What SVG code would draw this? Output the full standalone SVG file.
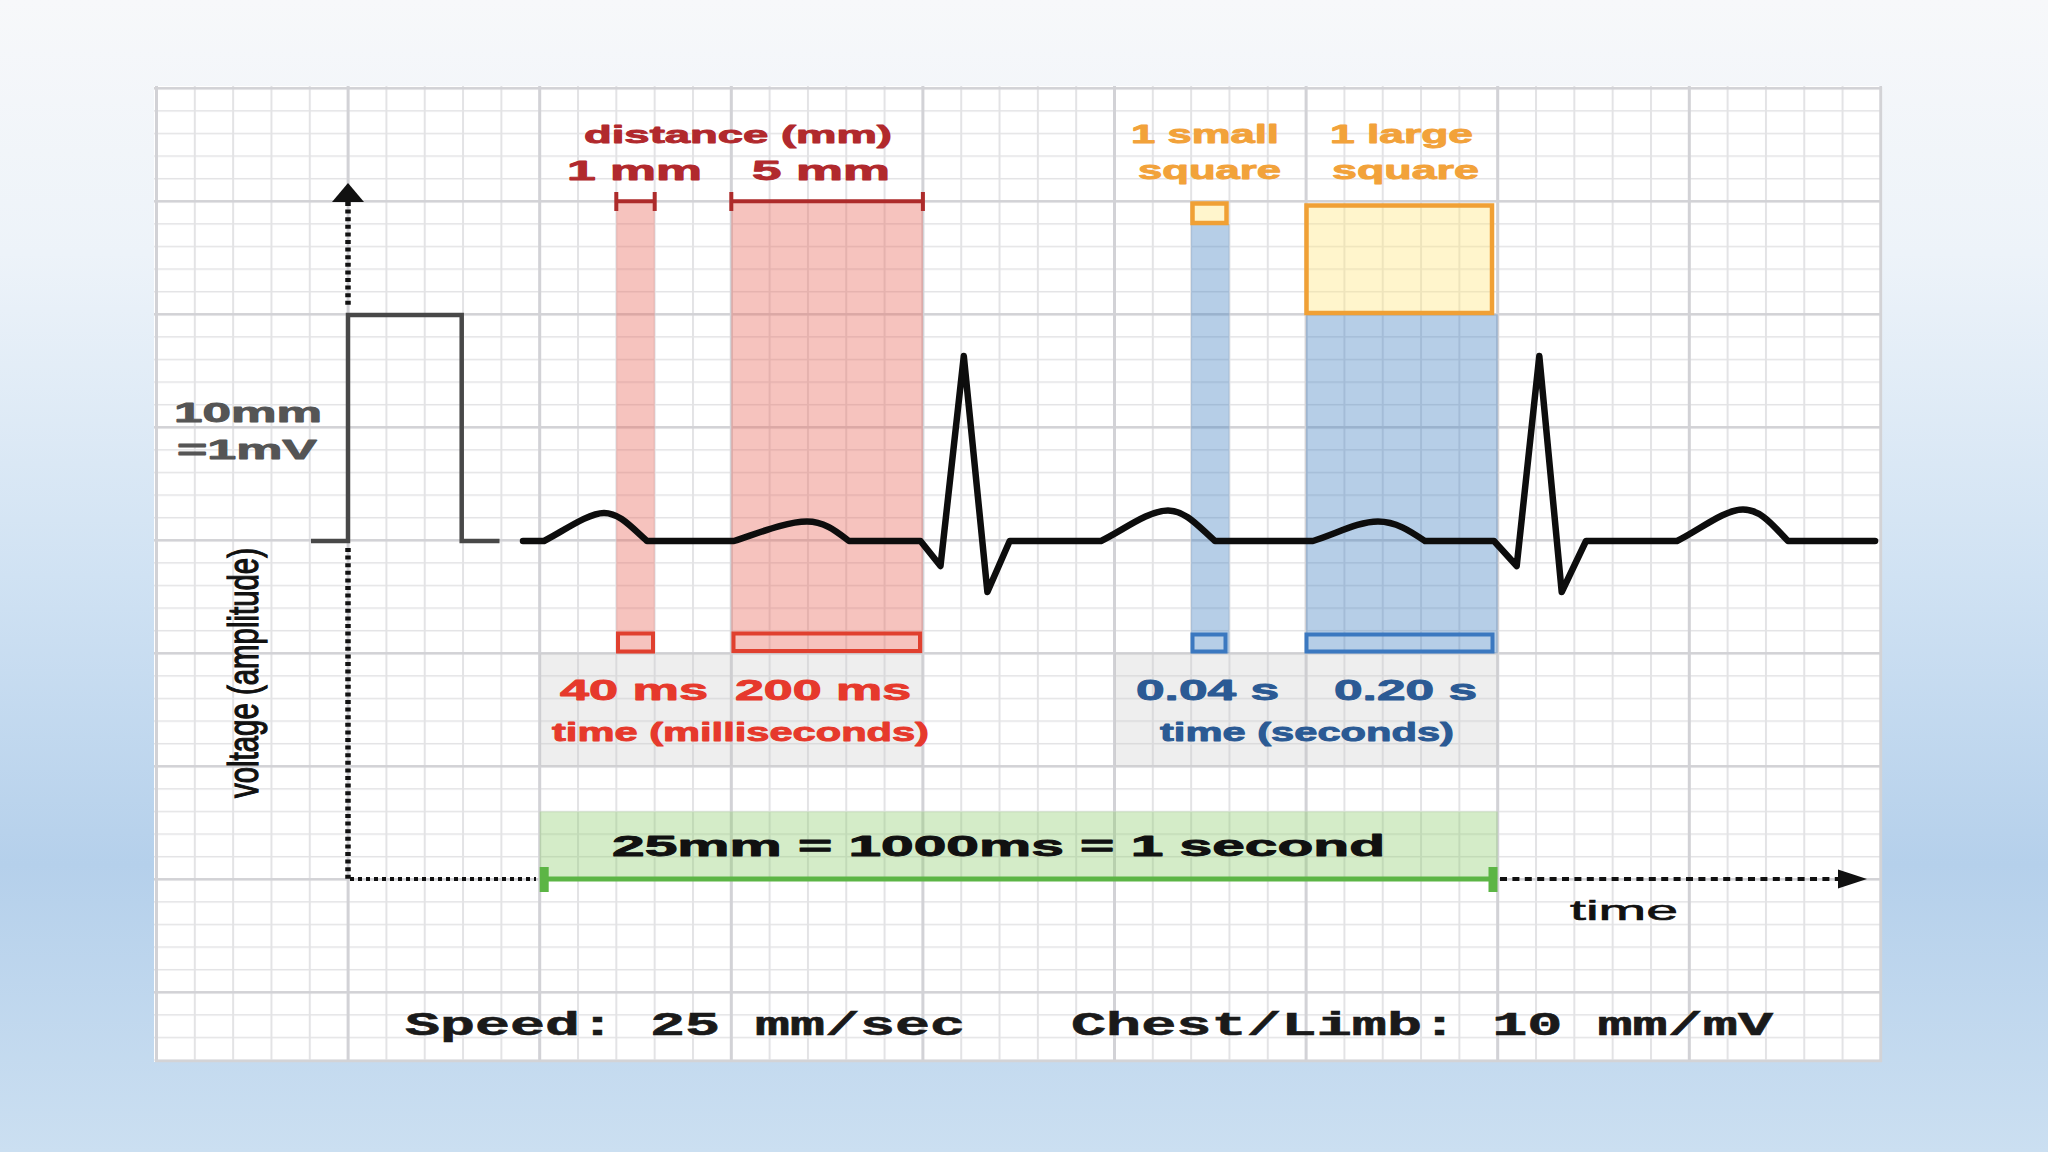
<svg xmlns="http://www.w3.org/2000/svg" width="2048" height="1152" viewBox="0 0 2048 1152">
<defs>
<linearGradient id="bg" x1="0" y1="0" x2="0" y2="1">
<stop offset="0" stop-color="#f7f8fa"/>
<stop offset="0.22" stop-color="#edf3f9"/>
<stop offset="0.5" stop-color="#d0e2f3"/>
<stop offset="0.75" stop-color="#b5d0eb"/>
<stop offset="1" stop-color="#cbdff1"/>
</linearGradient>
<pattern id="minor" x="155.5" y="87.55" width="38.32" height="22.6" patternUnits="userSpaceOnUse">
<path d="M0 0.75H38.32" stroke="#e3e3e5" stroke-width="1.5" fill="none"/>
<path d="M1 0V22.6" stroke="#e3e3e5" stroke-width="2" fill="none"/>
</pattern>
<pattern id="major" x="155" y="87.05" width="191.6" height="113" patternUnits="userSpaceOnUse">
<path d="M0 1.25H191.6" stroke="#d2d2d6" stroke-width="2.5" fill="none"/>
<path d="M1.5 0V113" stroke="#d2d2d6" stroke-width="3" fill="none"/>
</pattern>
<style>
.sans{font-family:"Liberation Sans",Arial,Helvetica,sans-serif;font-weight:bold;stroke-width:0.9;stroke-linejoin:round}
.reg{font-family:"Liberation Sans",Arial,Helvetica,sans-serif;font-weight:normal}
.mono{font-family:"Liberation Mono","Courier New",monospace;font-weight:bold;font-size:34px;fill:#1a1a1a;stroke:#1a1a1a;stroke-width:0.6}
.dred{fill:#b1292d;stroke:#b1292d}
.bred{fill:#e6392c;stroke:#e6392c}
.orange{fill:#f2a23a;stroke:#f2a23a}
.blue{fill:#2b5a94;stroke:#2b5a94}
.redband{fill:#e8685c;fill-opacity:0.4}
.blueband{fill:#3f7fbf;fill-opacity:0.38}
.yellow{fill:#ffe680;fill-opacity:0.4;stroke:#f0a035;stroke-width:4.5}
.redbox{fill:none;stroke:#e0402f;stroke-width:4}
.bluebox{fill:none;stroke:#3b78c0;stroke-width:4}
.greybox{fill:#c8c8c8;fill-opacity:0.3}
.bracket{stroke:#ad2b2b;stroke-width:4;fill:none}
.dots{stroke:#111;fill:none}
.arrow{fill:#111}
</style>
</defs>

<rect x="0" y="0" width="2048" height="1152" fill="url(#bg)"/>

<g id="paper">
<rect x="154" y="86" width="1728" height="976" fill="#ffffff"/>
<rect x="154" y="86" width="1728" height="976" fill="url(#minor)"/>
<rect x="154" y="86" width="1728" height="976" fill="url(#major)"/>
<path d="M1880.9 87V1062M155 1061H1882" stroke="#d3d3d6" stroke-width="2.5" fill="none"/>
</g>

<g id="label-backgrounds">
<rect class="greybox" x="539.7" y="653.3" width="383.2" height="113"/>
<rect class="greybox" x="1114.5" y="653.3" width="383.2" height="113"/>
</g>

<g id="one-second-bar">
<rect x="539.7" y="811.5" width="958" height="67.5" fill="#8fcc6f" fill-opacity="0.38"/>
<text class="sans" x="612" y="856" font-size="30" fill="#111" stroke="#111" textLength="773" lengthAdjust="spacingAndGlyphs">25mm = 1000ms = 1 second</text>
</g>

<g id="distance-bands">
<rect class="redband" x="616.3" y="201.3" width="38.4" height="452"/>
<rect class="redband" x="731.3" y="201.3" width="191.6" height="452"/>
<path class="bracket" d="M616.3 201.3H654.7M616.3 192V211M654.7 192V211"/>
<path class="bracket" d="M731.3 201.3H922.9M731.3 192V211M922.9 192V211"/>
<rect class="redbox" x="618" y="633.5" width="35" height="18"/>
<rect class="redbox" x="733.5" y="633.5" width="186.5" height="17.5"/>
<text class="sans dred" x="584" y="143" font-size="24" textLength="308" lengthAdjust="spacingAndGlyphs">distance (mm)</text>
<text class="sans dred" x="567" y="180" font-size="27" textLength="135" lengthAdjust="spacingAndGlyphs">1 mm</text>
<text class="sans dred" x="752" y="180" font-size="27" textLength="138" lengthAdjust="spacingAndGlyphs">5 mm</text>
<text class="sans bred" x="560" y="700" font-size="29" textLength="148" lengthAdjust="spacingAndGlyphs">40 ms</text>
<text class="sans bred" x="735" y="700" font-size="29" textLength="176" lengthAdjust="spacingAndGlyphs">200 ms</text>
<text class="sans bred" x="552" y="741" font-size="25" textLength="377" lengthAdjust="spacingAndGlyphs">time (milliseconds)</text>
</g>

<g id="time-bands">
<rect class="blueband" x="1191.1" y="224" width="38.3" height="429.3"/>
<rect class="blueband" x="1306.1" y="314.3" width="191.6" height="339"/>
<rect class="yellow" x="1192.5" y="203.5" width="34" height="19.5"/>
<rect class="yellow" x="1306.5" y="205.5" width="185.5" height="107.5"/>
<rect class="bluebox" x="1192.5" y="634.5" width="33" height="17"/>
<rect class="bluebox" x="1306.5" y="634.5" width="186" height="17"/>
<text class="sans orange" x="1131" y="143" font-size="26" textLength="148" lengthAdjust="spacingAndGlyphs">1 small</text>
<text class="sans orange" x="1138" y="179" font-size="26" textLength="143" lengthAdjust="spacingAndGlyphs">square</text>
<text class="sans orange" x="1330" y="143" font-size="26" textLength="143" lengthAdjust="spacingAndGlyphs">1 large</text>
<text class="sans orange" x="1332" y="179" font-size="26" textLength="147" lengthAdjust="spacingAndGlyphs">square</text>
<text class="sans blue" x="1136" y="700" font-size="29" textLength="143" lengthAdjust="spacingAndGlyphs">0.04 s</text>
<text class="sans blue" x="1334" y="700" font-size="29" textLength="143" lengthAdjust="spacingAndGlyphs">0.20 s</text>
<text class="sans blue" x="1160" y="741" font-size="25" textLength="294" lengthAdjust="spacingAndGlyphs">time (seconds)</text>
</g>

<g id="calibration">
<path d="M311 541H348V315H461.7V541H499.5" fill="none" stroke="#484848" stroke-width="4.5"/>
<text class="sans" x="174" y="422" font-size="28" fill="#555" stroke="#555" textLength="148" lengthAdjust="spacingAndGlyphs">10mm</text>
<text class="sans" x="177" y="459" font-size="28" fill="#555" stroke="#555" textLength="140" lengthAdjust="spacingAndGlyphs">=1mV</text>
</g>

<g id="ecg-trace">
<path d="M523 541L544 541C562 532 588 513 604 513C620 513 632 528 647 541L734 541C756 534 786 521.5 807 521.5C825 521.5 837 532 849 541L920.5 541L940.5 566L963.8 356L987.4 592L1009.7 541L1101 541C1122 531 1148 510.5 1168 510.5C1186 510.5 1199 527 1215 541L1313 541C1336 534 1358 521.5 1378 521.5C1396 521.5 1410 531 1425 541L1494 541L1516.7 566L1539.3 356L1561.7 592L1586 541L1677 541C1698 531 1724 509.5 1743 509.5C1762 509.5 1774 527 1788 541L1875 541" fill="none" stroke="#0d0d0d" stroke-width="6.5" stroke-linejoin="round" stroke-linecap="round"/>
</g>

<g id="connectors">
<path class="dots" d="M348 202V308" stroke-width="5.5" stroke-dasharray="4 3.6"/>
<path class="dots" d="M348 548V879" stroke-width="5.5" stroke-dasharray="4 3.6"/>
<path class="dots" d="M350 879H536" stroke-width="4" stroke-dasharray="4 4"/>
<path class="dots" d="M1500 879H1838" stroke-width="4" stroke-dasharray="7 5.4"/>
<polygon class="arrow" points="348,183 332,202 364,202"/>
<polygon class="arrow" points="1867,879 1838,869.5 1838,888.5"/>
<path d="M540 879H1497" stroke="#5cb545" stroke-width="5" fill="none"/>
<rect x="539.7" y="867" width="9" height="25" fill="#5cb545"/>
<rect x="1488.5" y="867" width="9" height="25" fill="#5cb545"/>
</g>

<g id="axis-labels">
<text class="reg" transform="translate(258,673) rotate(-90) scale(1,1.6)" text-anchor="middle" font-size="26" fill="#111" stroke="#111" stroke-width="0.8" textLength="250" lengthAdjust="spacingAndGlyphs">voltage (amplitude)</text>
<text class="reg" x="1570" y="920" font-size="28" fill="#111" stroke="#111" stroke-width="0.6" textLength="108" lengthAdjust="spacingAndGlyphs">time</text>
</g>

<g id="settings">
<text class="mono" x="405" y="1035" textLength="560" lengthAdjust="spacingAndGlyphs">Speed: 25 mm/sec</text>
<text class="mono" x="1071" y="1035" textLength="702" lengthAdjust="spacingAndGlyphs">Chest/Limb: 10 mm/mV</text>
</g>
</svg>
